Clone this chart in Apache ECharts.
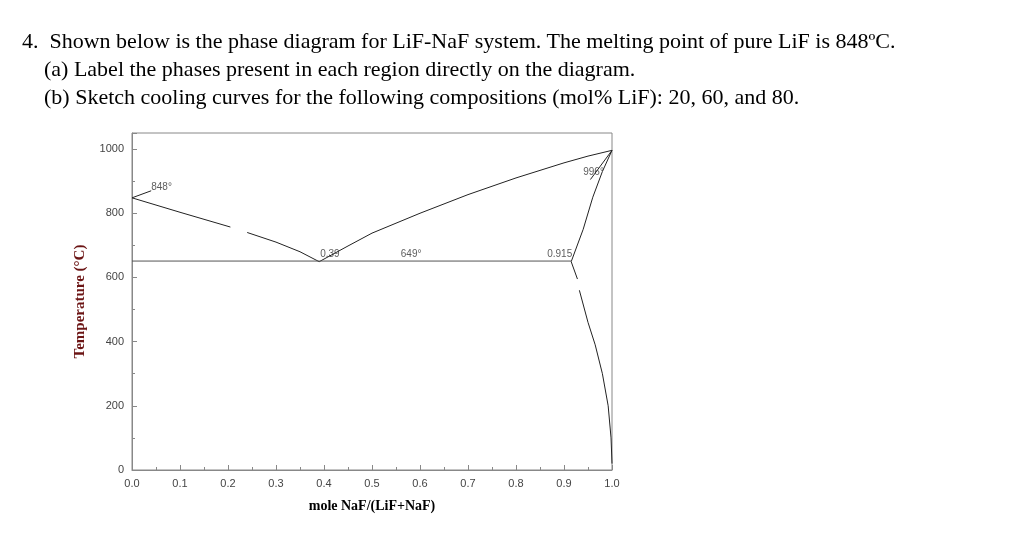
<!DOCTYPE html><html><head><meta charset="utf-8"><script src="https://cdn.jsdelivr.net/npm/echarts@6/dist/echarts.min.js"></script>
<style>body{margin:0;background:#fff;}#t{position:absolute;left:0;top:0;font-family:"Liberation Serif",serif;font-size:22px;color:#000;line-height:28px}#c{width:1024px;height:557px}</style></head><body>
<div id="c"></div>
<div id="t"><div style="position:absolute;left:22px;top:27px;white-space:nowrap">4.&nbsp; Shown below is the phase diagram for LiF-NaF system. The melting point of pure LiF is 848ºC.</div>
<div style="position:absolute;left:44px;top:55px;white-space:nowrap">(a) Label the phases present in each region directly on the diagram.</div>
<div style="position:absolute;left:44px;top:83px;white-space:nowrap">(b) Sketch cooling curves for the following compositions (mol% LiF): 20, 60, and 80.</div></div>
<script>
const liqLeftA=[[0,848],[0.1,803],[0.205,757]];
const liqLeftB=[[0.24,740],[0.3,710],[0.35,680],[0.39,649]];
const liqRight=[[0.39,649],[0.45,698],[0.5,738],[0.6,800],[0.7,858],[0.8,910],[0.9,957],[0.95,978],[1.0,996]];
const solidus=[[0.915,649],[0.94,750],[0.96,850],[0.98,930],[1.0,996]];
const solvusA=[[0.915,649],[0.928,595]];
const solvusB=[[0.932,560],[0.95,460],[0.965,390],[0.98,300],[0.992,200],[0.998,100],[1.0,20]];
const eutectic=[[0,651],[0.915,651]];
const lead848=[[0,848],[0.04,870]];
const lead996=[[0.955,905],[1.0,996]];
const labels=[[0.04,865,'848°'],[0.94,913,'996°'],[0.392,658,'0.39'],[0.56,658,'649°'],[0.865,658,'0.915']];
const c=echarts.init(document.getElementById('c'));
const ln=(d)=>({type:'line',data:d,symbol:'none',lineStyle:{color:'#222',width:1},silent:true});
const tk={show:true,inside:true,length:5,lineStyle:{color:'#888'}};
const mt={show:true,splitNumber:2,length:3,lineStyle:{color:'#888'}};
const al={show:true,lineStyle:{color:'#888'}};
c.setOption({animation:false,
grid:{left:132,right:412,top:133,bottom:87,show:true,borderColor:'#888',borderWidth:1},
xAxis:{type:'value',min:0,max:1,interval:0.1,axisLine:al,axisTick:tk,minorTick:mt,splitLine:{show:false},
axisLabel:{color:'#444',fontSize:11,fontFamily:'Liberation Sans',formatter:v=>v.toFixed(1)},
name:'mole NaF/(LiF+NaF)',nameLocation:'middle',nameGap:29,nameTextStyle:{color:'#000',fontFamily:'Liberation Serif',fontWeight:'bold',fontSize:14}},
yAxis:{type:'value',min:0,max:1050,interval:200,axisLine:al,axisTick:tk,minorTick:mt,splitLine:{show:false},
axisLabel:{color:'#444',fontSize:11,fontFamily:'Liberation Sans',formatter:v=>v%200===0?String(v):''},
name:'Temperature (°C)',nameLocation:'middle',nameGap:44,nameTextStyle:{color:'#6b1414',fontFamily:'Liberation Serif',fontWeight:'bold',fontSize:15}},
series:[ln(liqLeftA),ln(liqLeftB),ln(liqRight),ln(solidus),ln(solvusA),ln(solvusB),
{...ln(eutectic),lineStyle:{color:'#555',width:1}},ln(lead848),ln(lead996),
{type:'scatter',symbolSize:0,data:labels.map(l=>({value:[l[0],l[1]],name:l[2]})),
label:{show:true,position:'top',distance:0,formatter:p=>p.name,color:'#333',fontSize:10,fontFamily:'Liberation Sans',align:'left'}}]});
</script></body></html>
